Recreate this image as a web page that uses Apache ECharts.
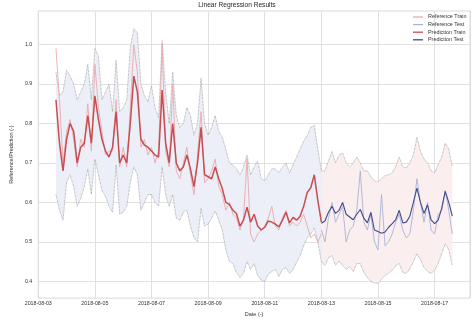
<!DOCTYPE html>
<html><head><meta charset="utf-8">
<script src="https://cdn.jsdelivr.net/npm/echarts@6/dist/echarts.min.js"></script>
<style>html,body{margin:0;padding:0;background:#fff}#c{width:474px;height:322px}</style>
</head><body><div id="c"></div>
<script>
// ---- data (3-hourly samples, first sample 2018-08-03 15:00 UTC) ----
const startTime = Date.UTC(2018, 7, 3, 15);
const stepHours = 3;
const trainEndIndex = 75;

const predTrain = [
0.86,0.75,0.68,0.76,0.80,0.78,0.70,0.74,0.75,0.82,
0.75,0.87,0.81,0.76,0.73,0.715,0.74,0.83,0.70,0.72,
0.70,0.80,0.92,0.88,0.76,0.745,0.74,0.73,0.72,0.715,
0.885,0.75,0.70,0.80,0.70,0.68,0.69,0.72,0.685,0.64,
0.70,0.79,0.67,0.665,0.66,0.69,0.66,0.635,0.60,0.595,
0.58,0.572,0.54,0.555,0.588,0.55,0.57,0.54,0.53,0.537,
0.553,0.55,0.545,0.538,0.555,0.575,0.548,0.562,0.555,0.565,
0.59,0.625,0.637,0.67,0.605,0.55];

const refTrain = [
0.99,0.86,0.70,0.78,0.81,0.76,0.69,0.76,0.74,0.85,
0.73,0.95,0.84,0.78,0.72,0.73,0.73,0.86,0.69,0.74,
0.69,0.84,1.0,0.93,0.74,0.76,0.72,0.74,0.70,0.73,
1.0,0.73,0.69,0.90,0.68,0.66,0.70,0.74,0.67,0.62,
0.72,0.83,0.65,0.66,0.68,0.71,0.64,0.62,0.58,0.60,
0.57,0.56,0.53,0.56,0.71,0.52,0.50,0.52,0.53,0.54,
0.56,0.59,0.54,0.53,0.56,0.58,0.54,0.55,0.54,0.55,
0.57,0.54,0.51,0.52,0.50,0.52];

const predTest = [
0.547,0.553,0.575,0.59,0.572,0.58,0.60,0.57,0.563,0.556,
0.57,0.582,0.56,0.548,0.575,0.53,0.526,0.522,0.525,0.537,
0.546,0.556,0.58,0.548,0.55,0.565,0.60,0.636,0.60,0.572,
0.594,0.556,0.546,0.555,0.585,0.628,0.60,0.565];

const refTest = [
0.53,0.50,0.56,0.60,0.55,0.57,0.59,0.50,0.53,0.54,
0.58,0.68,0.55,0.53,0.57,0.50,0.48,0.62,0.49,0.50,
0.52,0.55,0.57,0.53,0.51,0.52,0.58,0.66,0.60,0.55,
0.60,0.53,0.52,0.57,0.58,0.63,0.58,0.52];

const bandUpper = [
0.93,0.87,0.88,0.935,0.92,0.90,0.86,0.88,0.90,0.95,
0.86,0.99,0.97,0.86,0.88,0.90,0.83,0.96,0.83,0.84,
0.86,0.99,1.04,1.03,0.90,0.87,0.855,0.895,0.84,0.815,
1.01,0.88,0.80,0.93,0.82,0.79,0.80,0.84,0.82,0.77,
0.80,0.915,0.80,0.77,0.79,0.82,0.78,0.765,0.735,0.70,
0.695,0.685,0.67,0.69,0.72,0.67,0.69,0.705,0.66,0.655,
0.67,0.685,0.685,0.675,0.69,0.70,0.675,0.695,0.715,0.735,
0.755,0.77,0.79,0.795,0.735,0.68,0.68,0.705,0.729,0.70,
0.72,0.725,0.70,0.69,0.70,0.715,0.70,0.68,0.68,0.665,
0.655,0.652,0.66,0.668,0.67,0.675,0.69,0.715,0.69,0.687,
0.70,0.72,0.765,0.73,0.71,0.70,0.68,0.675,0.695,0.715,
0.75,0.735,0.69];

const bandLower = [
0.62,0.58,0.555,0.65,0.67,0.64,0.59,0.61,0.64,0.685,
0.62,0.71,0.67,0.63,0.615,0.59,0.575,0.695,0.57,0.575,
0.59,0.65,0.69,0.67,0.58,0.60,0.62,0.62,0.60,0.59,
0.69,0.62,0.59,0.62,0.56,0.555,0.575,0.58,0.54,0.51,
0.50,0.585,0.54,0.545,0.56,0.578,0.555,0.53,0.48,0.45,
0.445,0.422,0.41,0.42,0.45,0.43,0.445,0.415,0.403,0.40,
0.418,0.425,0.43,0.412,0.43,0.435,0.42,0.43,0.448,0.465,
0.49,0.51,0.52,0.535,0.50,0.45,0.44,0.46,0.465,0.44,
0.452,0.44,0.43,0.437,0.425,0.445,0.445,0.422,0.41,0.40,
0.396,0.395,0.405,0.415,0.42,0.428,0.44,0.445,0.422,0.42,
0.432,0.45,0.47,0.455,0.435,0.425,0.42,0.428,0.445,0.47,
0.495,0.48,0.44];

const yTickValues = [0.4,0.5,0.6,0.7,0.8,0.9,1.0];
const xTickStepDays = 2;

// ---- build ----
const DAY = 86400000;
const stepMs = stepHours * 3600 * 1000;
const allTimes = bandUpper.map((_, i) => startTime + i * stepMs);
const trainTimes = allTimes.slice(0, trainEndIndex + 1);
const testTimes = allTimes.slice(trainEndIndex);
const pairs = (ts, vs) => ts.map((t, i) => [t, vs[i]]);
const lowTrain = bandLower.slice(0, trainEndIndex + 1);
const spanTrain = lowTrain.map((v, i) => +(bandUpper[i] - v).toFixed(4));
const lowTest = bandLower.slice(trainEndIndex);
const spanTest = lowTest.map((v, i) => +(bandUpper[trainEndIndex + i] - v).toFixed(4));
const pad = n => (n < 10 ? '0' : '') + n;
const FONT = 'Liberation Sans, Arial, sans-serif';
const xMin = Date.UTC(2018, 7, 3, 0), xMax = Date.UTC(2018, 7, 18, 6);

const hidden = { symbol: 'none', silent: true, lineStyle: { opacity: 0, width: 0 }, emphasis: { disabled: true } };

const option = {
  animation: false,
  useUTC: true,
  backgroundColor: '#ffffff',
  title: {
    text: 'Linear Regression Results', left: 'center', top: 2, padding: 0,
    textStyle: { fontFamily: FONT, fontSize: 6.6, fontWeight: 'normal', color: '#262626' }
  },
  legend: {
    data: ['Reference Train', 'Reference Test', 'Prediction Train', 'Prediction Test'],
    orient: 'vertical', left: 413, top: 13.5, itemGap: 0.6, padding: 0,
    itemWidth: 10, itemHeight: 1.3, icon: 'rect',
    textStyle: { fontFamily: FONT, fontSize: 5.4, color: '#333', lineHeight: 7 }
  },
  grid: {
    left: 23, right: 4, top: 11, bottom: 20, show: true,
    borderColor: '#cfcfcf', borderWidth: 0.8, backgroundColor: 'transparent'
  },
  xAxis: [{
    type: 'time', position: 'top', min: xMin, max: xMax,
    axisLine: { show: false }, axisTick: { show: false },
    axisLabel: { show: false }, splitLine: { show: false }
  }, {
    type: 'value', position: 'bottom', min: xMin, max: xMax, interval: xTickStepDays * DAY,
    name: 'Date (-)', nameLocation: 'middle', nameGap: 10,
    nameTextStyle: { fontFamily: FONT, fontSize: 5.5, color: '#333' },
    axisLine: { show: false }, axisTick: { show: false },
    splitLine: { show: true, lineStyle: { color: '#d9d9d9', width: 0.8 } },
    axisLabel: {
      margin: 3, showMaxLabel: false,
      fontFamily: FONT, fontSize: 5.3, color: '#333',
      formatter: v => { const d = new Date(v); return d.getUTCFullYear() + '-' + pad(d.getUTCMonth() + 1) + '-' + pad(d.getUTCDate()); }
    }
  }],
  yAxis: {
    type: 'value', min: 0.3575, max: 1.085,
    name: 'Reference/Prediction (-)', nameLocation: 'middle', nameGap: 19,
    nameTextStyle: { fontFamily: FONT, fontSize: 5.5, color: '#333' },
    axisLine: { show: false },
    axisTick: { show: false, customValues: yTickValues },
    splitLine: { show: true, lineStyle: { color: '#d9d9d9', width: 0.8 } },
    axisLabel: {
      customValues: yTickValues, margin: 6,
      fontFamily: FONT, fontSize: 5.3, color: '#333',
      formatter: v => v.toFixed(1)
    }
  },
  series: [
    Object.assign({ name: 'bandTrainLow', type: 'line', stack: 'bt', data: pairs(trainTimes, lowTrain) }, hidden),
    Object.assign({ name: 'bandTrainSpan', type: 'line', stack: 'bt', data: pairs(trainTimes, spanTrain), areaStyle: { color: '#eceff7', opacity: 1 } }, hidden),
    Object.assign({ name: 'bandTestLow', type: 'line', stack: 'bs', data: pairs(testTimes, lowTest) }, hidden),
    Object.assign({ name: 'bandTestSpan', type: 'line', stack: 'bs', data: pairs(testTimes, spanTest), areaStyle: { color: '#faeeee', opacity: 1 } }, hidden),
    { name: 'bandUpperLine', type: 'line', data: pairs(allTimes, bandUpper), symbol: 'none', silent: true,
      lineStyle: { color: '#8a8a8a', width: 0.7, type: 'dotted' } },
    { name: 'bandLowerLine', type: 'line', data: pairs(allTimes, bandLower), symbol: 'none', silent: true,
      lineStyle: { color: '#8a8a8a', width: 0.7, type: 'dotted' } },
    { name: 'Reference Train', type: 'line', data: pairs(trainTimes, refTrain), symbol: 'none',
      color: '#eaa9ac', lineStyle: { color: '#eaa9ac', width: 0.9 } },
    { name: 'Reference Test', type: 'line', data: pairs(testTimes, refTest), symbol: 'none',
      color: '#aab3d6', lineStyle: { color: '#aab3d6', width: 0.9 } },
    { name: 'Prediction Train', type: 'line', data: pairs(trainTimes, predTrain), symbol: 'none',
      color: '#c44e52', lineStyle: { color: '#c44e52', width: 1.5 } },
    { name: 'Prediction Test', type: 'line', data: pairs(testTimes, predTest), symbol: 'none',
      color: '#3e4a8c', lineStyle: { color: '#3e4a8c', width: 1.1 } }
  ]
};
const chart = echarts.init(document.getElementById('c'), null, { renderer: 'canvas' });
chart.setOption(option);
</script></body></html>
